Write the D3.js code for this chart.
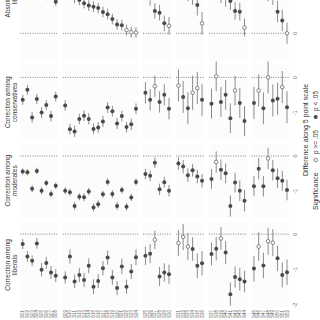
<!DOCTYPE html>
<html>
<head>
<meta charset="utf-8">
<script src="https://cdn.jsdelivr.net/npm/d3@7"></script>
<style>
body{margin:0;background:#fff}
svg{display:block;font-family:"Liberation Sans",Arial,sans-serif}
</style>
</head>
<body>
<svg id="chart"></svg>
<script>
//----------data-------------
var groupSizes = [8, 16, 6, 6, 8, 8];
var itemLabels = ["S01","S02","S03","S04","S05","S06","S07","S08",
	"S09","S10","S11","S12","S13","S14","S15","S16","S17","S18","S19","S20","S21","S22","S23","S24",
	"S25","S26","S27","S28","S29","S30",
	"S31","S32","S33","S34","S35","S36",
	"S37","S38","S39","S40","S41","S42","S43","S44",
	"S45","S46","S47","S48","S49","S50","S51","S52"];

var facetNames = [["Correction among","liberals"],["Correction among","moderates"],["Correction among","conservatives"],["Absolute among","liberals"]];
var facetLow = [-2.08, -1.74, -1.75, -0.78];
var facetHigh = [0.35, 0.35, 0.35, 3.0];
var facetTicks = [[0,-1,-2],[0,-1],[0,-1],[0]];

var liberalEst = [-0.28,-0.63,-0.75,-0.26,-1.00,-0.81,-1.08,-1.17,
	-1.22,-0.63,-1.33,-1.15,-1.29,-0.89,-1.48,-1.32,-0.96,-0.66,-1.22,-1.52,-0.91,-1.48,-1.05,-0.65,
	-0.61,-0.55,-0.16,-1.19,-1.08,-1.13,
	-0.25,-0.08,-0.35,-0.42,-0.89,-0.82,
	-0.56,-0.41,-0.12,-0.52,-1.69,-1.21,-1.27,-1.33,
	-0.97,-0.35,-0.88,-0.20,-0.24,-0.68,-1.15,-1.07];
var liberalCi = [0.14,0.15,0.15,0.15,0.19,0.17,0.18,0.18,
	0.17,0.20,0.19,0.20,0.20,0.21,0.21,0.20,0.20,0.20,0.21,0.20,0.22,0.20,0.21,0.22,
	0.26,0.27,0.26,0.27,0.26,0.27,
	0.36,0.37,0.38,0.33,0.35,0.34,
	0.32,0.33,0.32,0.32,0.33,0.30,0.32,0.30,
	0.36,0.40,0.36,0.38,0.38,0.36,0.35,0.36];

var moderateEst = [-0.44,-0.46,-0.92,-0.42,-0.98,-0.76,-1.07,-0.84,
	-0.98,-1.02,-1.41,-1.15,-1.16,-1.00,-1.45,-1.36,-1.08,-0.73,-1.07,-1.41,-0.96,-1.43,-1.17,-0.73,
	-0.51,-0.56,-0.19,-0.94,-0.74,-0.98,
	-0.21,-0.30,-0.54,-0.40,-0.58,-0.70,
	-0.65,-0.17,-0.39,-0.49,-1.41,-0.75,-0.98,-1.26,
	-0.85,-0.36,-0.85,-0.07,-0.40,-0.63,-0.70,-0.96];
var moderateCi = [0.09,0.09,0.10,0.09,0.10,0.09,0.10,0.09,
	0.10,0.10,0.11,0.10,0.11,0.10,0.11,0.11,0.10,0.10,0.11,0.11,0.10,0.11,0.10,0.10,
	0.15,0.15,0.15,0.16,0.15,0.16,
	0.18,0.19,0.19,0.18,0.19,0.19,
	0.28,0.30,0.29,0.28,0.30,0.28,0.29,0.30,
	0.28,0.30,0.29,0.30,0.29,0.28,0.28,0.29];

var conservativeEst = [-0.63,-0.35,-1.13,-0.61,-0.99,-0.78,-1.09,-0.54,
	-0.79,-1.46,-1.52,-1.17,-1.08,-1.17,-1.45,-1.41,-1.24,-0.85,-0.95,-1.30,-1.09,-1.40,-1.32,-0.88,
	-0.43,-0.63,-0.25,-0.69,-0.49,-0.88,
	-0.23,-0.55,-0.87,-0.43,-0.30,-0.63,
	-0.74,0.03,-0.69,-0.49,-1.15,-0.37,-0.72,-1.23,
	-0.72,-0.37,-0.87,0.00,-0.65,-0.60,-0.27,-0.84];
var conservativeCi = [0.14,0.14,0.15,0.14,0.15,0.14,0.15,0.14,
	0.15,0.15,0.16,0.15,0.15,0.16,0.15,0.15,0.16,0.15,0.15,0.16,0.15,0.15,0.16,0.15,
	0.30,0.30,0.30,0.30,0.30,0.30,
	0.45,0.45,0.45,0.48,0.45,0.45,
	0.42,0.42,0.42,0.42,0.42,0.42,0.42,0.42,
	0.45,0.45,0.45,0.45,0.45,0.45,0.45,0.45];

var absoluteEst = [1.30,1.20,1.40,1.10,1.25,1.05,1.15,0.89,
	1.20,1.10,1.00,0.94,0.85,0.78,0.75,0.71,0.60,0.54,0.40,0.25,0.23,0.09,0.03,0.02,
	1.20,1.00,0.63,0.58,0.28,0.21,
	1.40,1.30,1.20,1.10,0.80,0.28,
	1.30,1.20,1.10,1.00,0.91,0.63,0.61,0.16,
	1.50,1.40,1.30,1.20,1.10,0.61,0.36,0.00];
var absoluteCi = [0.12,0.12,0.12,0.12,0.12,0.12,0.12,0.12,
	0.15,0.15,0.15,0.15,0.15,0.15,0.15,0.15,0.15,0.15,0.15,0.15,0.15,0.15,0.15,0.15,
	0.22,0.22,0.22,0.22,0.22,0.25,
	0.30,0.30,0.30,0.30,0.30,0.32,
	0.25,0.25,0.25,0.25,0.25,0.25,0.25,0.25,
	0.30,0.30,0.30,0.30,0.30,0.30,0.30,0.30];

var facetEst = [liberalEst, moderateEst, conservativeEst, absoluteEst];
var facetCi = [liberalCi, moderateCi, conservativeCi, absoluteCi];

//----------layout-------------
var screen = {width:320, height:320};
var pxPerUnit = 35.5;
var plotBottom = 308;
var facetGap = 4;

var svg = d3.select("#chart")
	.attr("width", screen.width)
	.attr("height", screen.height);

// item -> group / slot (one empty slot between groups)
var items = [];
var k = 0;
groupSizes.forEach(function(n, g){
	for (var j = 0; j < n; j++) {
		items.push({label:itemLabels[k], group:g, slot:k + g, index:k});
		k++;
	}
});
var lastSlot = items[items.length-1].slot;
var xScale = d3.scaleLinear().domain([0, lastSlot]).range([22.7, 287]);
var halfStep = (xScale(1) - xScale(0)) / 2;

var groups = groupSizes.map(function(n, g){
	var its = items.filter(function(d){ return d.group == g });
	return {first:its[0].slot, last:its[its.length-1].slot};
});

// stack facets from bottom upwards
var yBase = plotBottom;
var facets = facetNames.map(function(name, f){
	var h = (facetHigh[f] - facetLow[f]) * pxPerUnit;
	var yScale = d3.scaleLinear().domain([facetLow[f], facetHigh[f]]).range([yBase, yBase - h]);
	var out = {name:name, yScale:yScale, top:yBase - h, bottom:yBase, index:f};
	yBase = yBase - h - facetGap;
	return out;
});

//----------drawing-------------
var drawFacet = function(facet)
{
	var f = facet.index;
	var yScale = facet.yScale;
	var g = svg.append("g");

	g.selectAll("rect.panel")
	.data(groups)
	.enter()
	.append("rect")
	.attr("x", function(d){ return xScale(d.first) - halfStep })
	.attr("width", function(d){ return xScale(d.last) - xScale(d.first) + 2*halfStep })
	.attr("y", Math.max(facet.top, -5))
	.attr("height", facet.bottom - Math.max(facet.top, -5))
	.attr("fill", "#fcfcfc");

	g.selectAll("line.zero")
	.data(groups)
	.enter()
	.append("line")
	.attr("x1", function(d){ return xScale(d.first) - halfStep })
	.attr("x2", function(d){ return xScale(d.last) + halfStep })
	.attr("y1", yScale(0))
	.attr("y2", yScale(0))
	.attr("stroke", "#666")
	.attr("stroke-width", 0.8)
	.attr("stroke-dasharray", "1,1.4");

	var rows = items.map(function(d){
		var est = facetEst[f][d.index];
		var ci = facetCi[f][d.index];
		return {slot:d.slot, est:est, lo:est - ci, hi:est + ci, sig:(est - ci > 0 || est + ci < 0)};
	});

	g.selectAll("line.bar")
	.data(rows)
	.enter()
	.append("line")
	.attr("x1", function(d){ return xScale(d.slot) })
	.attr("x2", function(d){ return xScale(d.slot) })
	.attr("y1", function(d){ return yScale(d.lo) })
	.attr("y2", function(d){ return yScale(d.hi) })
	.attr("stroke", "#8c8c8c")
	.attr("stroke-width", 1);

	g.selectAll("circle")
	.data(rows)
	.enter()
	.append("circle")
	.attr("cx", function(d){ return xScale(d.slot) })
	.attr("cy", function(d){ return yScale(d.est) })
	.attr("r", function(d){ return d.sig ? 2 : 1.8 })
	.attr("fill", function(d){ return d.sig ? "#4a4a4a" : "#fff" })
	.attr("stroke", function(d){ return d.sig ? "none" : "#6a6a6a" })
	.attr("stroke-width", 0.8);

	// facet strip label (left)
	var cy = (facet.top + facet.bottom) / 2;
	facet.name.forEach(function(line, i){
		g.append("text")
		.attr("transform", "translate(" + (10 + i*6.8) + "," + cy + ") rotate(-90)")
		.attr("text-anchor", "middle")
		.attr("font-size", 6.5)
		.attr("fill", "#333")
		.text(line);
	});

	// value tick labels (right)
	g.selectAll("text.tick")
	.data(facetTicks[f])
	.enter()
	.append("text")
	.attr("transform", function(d){ return "translate(297," + yScale(d) + ") rotate(-90)" })
	.attr("text-anchor", "middle")
	.attr("font-size", 5.5)
	.attr("fill", "#666")
	.text(function(d){ return d });
}

facets.forEach(drawFacet);

// category labels (bottom)
svg.append("g")
	.selectAll("text")
	.data(items)
	.enter()
	.append("text")
	.attr("transform", function(d){ return "translate(" + (xScale(d.slot) + 1.6) + ",310) rotate(-90)" })
	.attr("text-anchor", "end")
	.attr("font-size", 4.5)
	.attr("fill", "#666")
	.text(function(d){ return d.label });

// axis title
svg.append("text")
	.attr("transform", "translate(308,130) rotate(-90)")
	.attr("text-anchor", "middle")
	.attr("font-size", 7)
	.attr("fill", "#333")
	.text("Difference along 5 point scale");

// legend
var legend = svg.append("g")
	.attr("transform", "translate(318,210) rotate(-90)");
legend.append("text")
	.attr("x", 0).attr("y", 0)
	.attr("font-size", 7).attr("fill", "#333")
	.text("Significance");
legend.append("circle")
	.attr("cx", 50).attr("cy", -2.3).attr("r", 1.8)
	.attr("fill", "#fff").attr("stroke", "#6a6a6a").attr("stroke-width", 0.8);
legend.append("text")
	.attr("x", 56).attr("y", 0)
	.attr("font-size", 6.5).attr("fill", "#333")
	.text("p >= .05");
legend.append("circle")
	.attr("cx", 93).attr("cy", -2.3).attr("r", 2)
	.attr("fill", "#4a4a4a");
legend.append("text")
	.attr("x", 99).attr("y", 0)
	.attr("font-size", 6.5).attr("fill", "#333")
	.text("p < .05");
</script>
</body>
</html>
